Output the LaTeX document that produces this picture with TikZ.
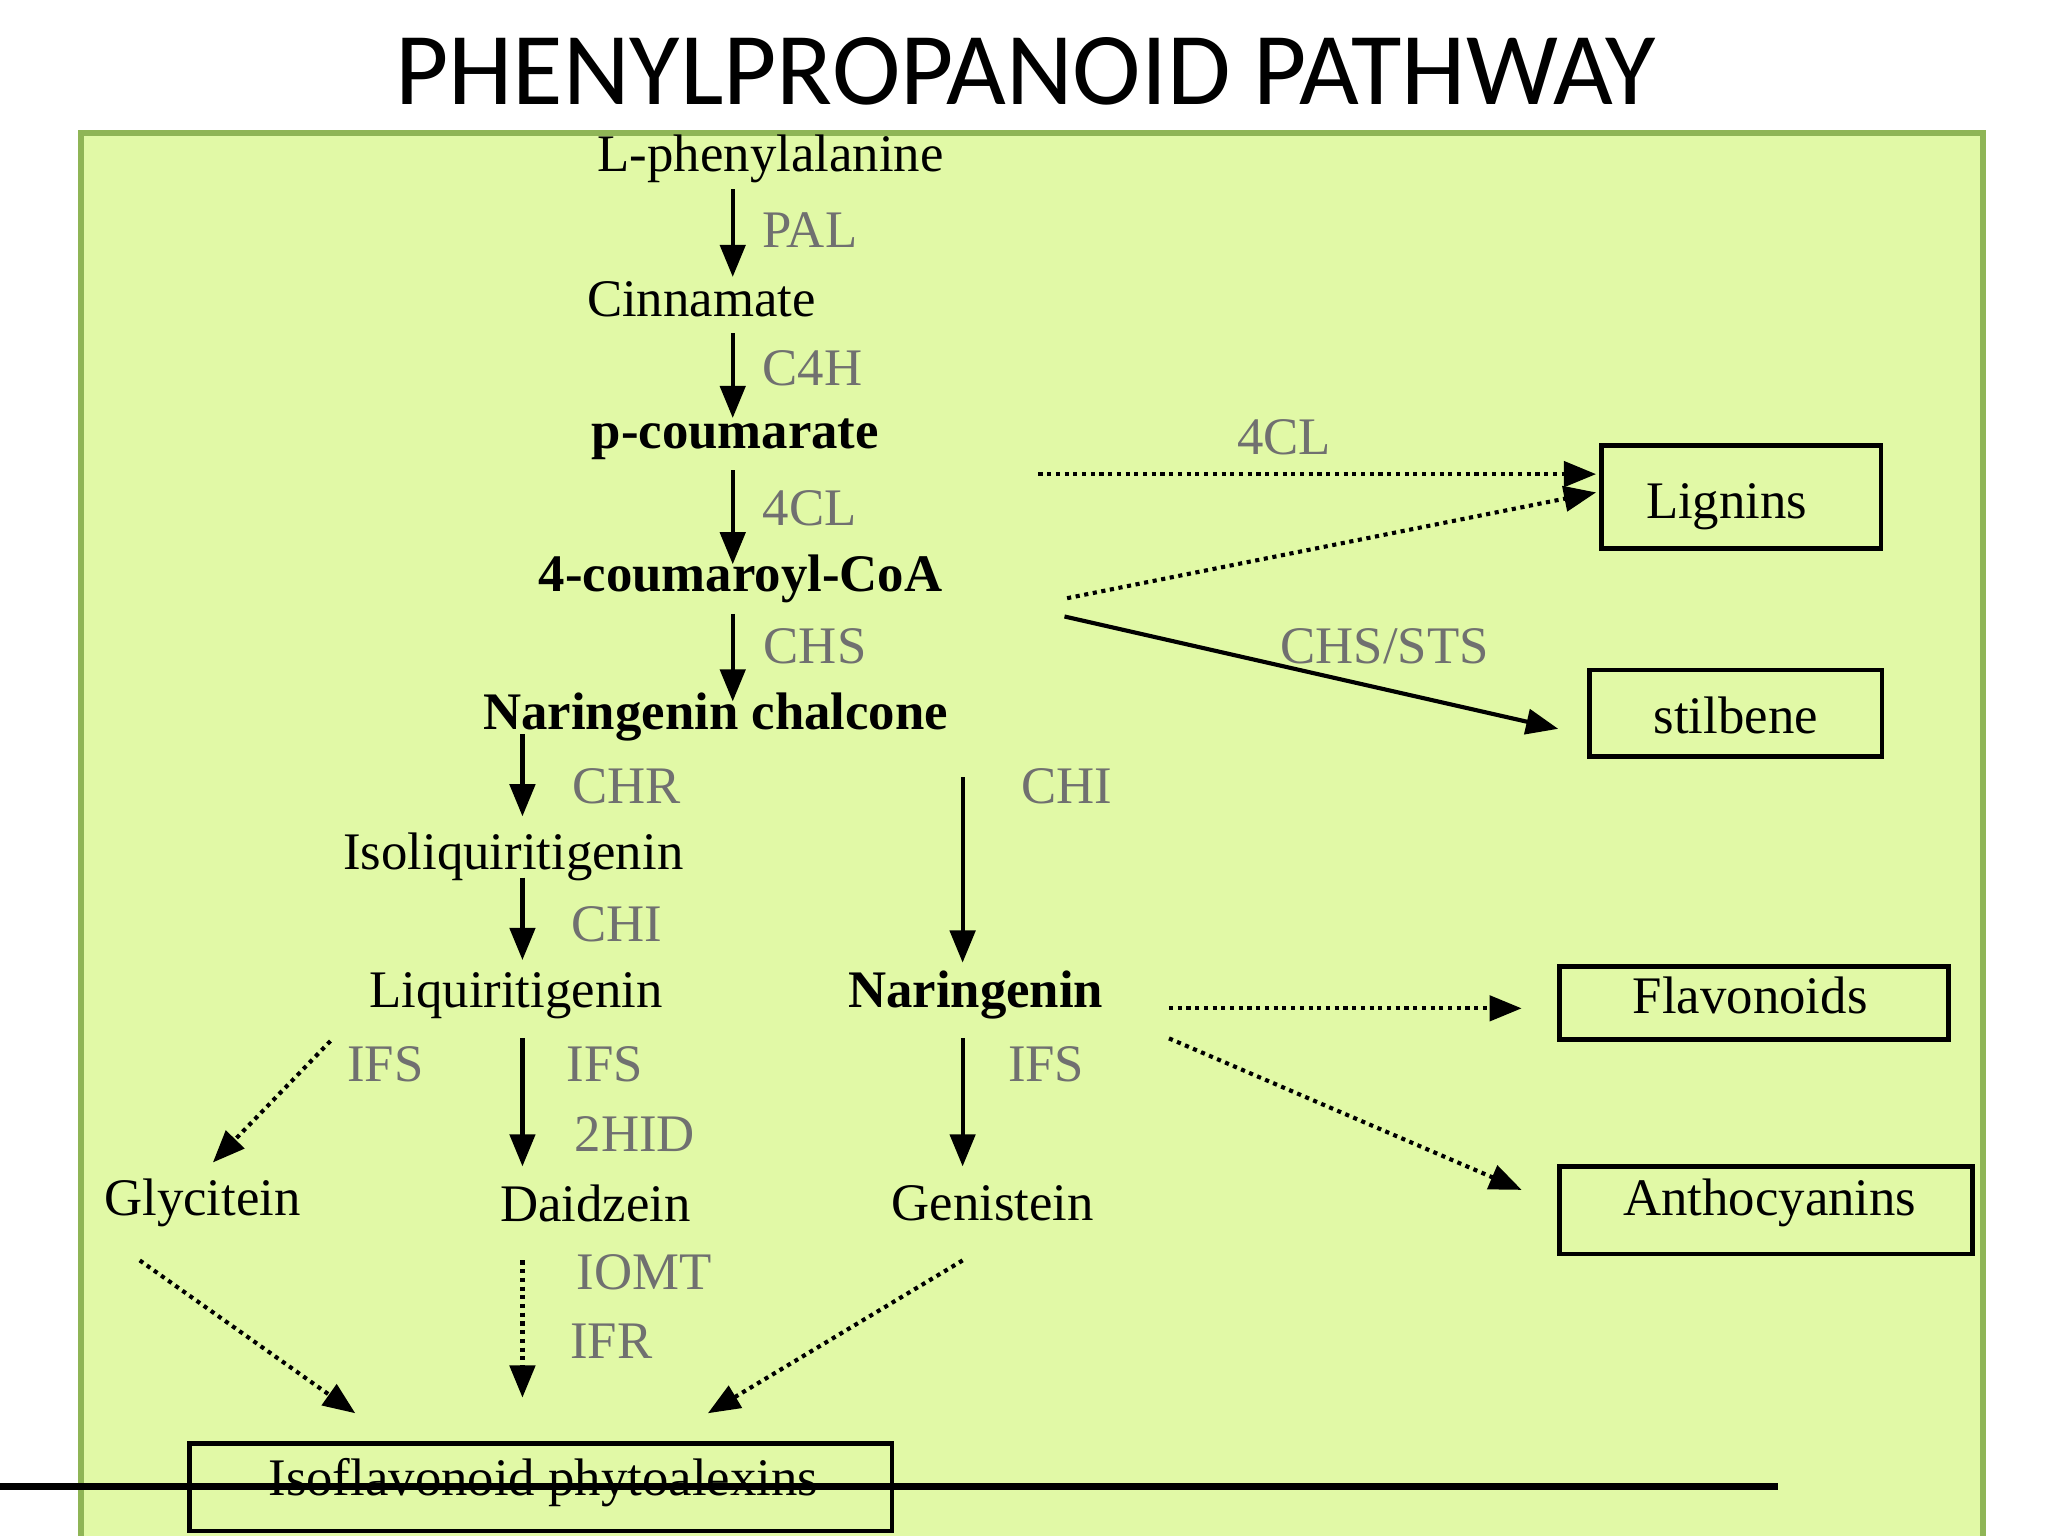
\documentclass[tikz,border=0pt]{standalone}
\usepackage{fontspec}
\setmainfont{Liberation Serif}
\newfontfamily\titlefont{Carlito}
\usetikzlibrary{arrows.meta}
\definecolor{bg}{HTML}{E1F9A6}
\definecolor{bd}{HTML}{8FB556}
\definecolor{enz}{HTML}{707070}
\begin{document}
\begin{tikzpicture}[x=0.02cm,y=-0.02cm,
 t/.style={font=\fontsize{23}{26}\selectfont,inner sep=0},
 b/.style={t,font=\fontsize{23}{26}\selectfont\bfseries},
 e/.style={t,text=enz},
 bx/.style={t,draw,line width=2pt,inner sep=0},
 sol/.style={-{Triangle[length=14pt,width=11pt]},line width=1.8pt},
 dot/.style={-{Triangle[length=14pt,width=11pt]},line width=1.8pt,dotted}]
\useasboundingbox (0,0) rectangle (1568,1176);
\fill[white] (0,0) rectangle (1568,1176);
\draw[fill=bg,draw=bd,line width=2.5pt] (62,102) rectangle (1518,1190);
\node[font=\titlefont\fontsize{45}{50}\selectfont] (title) at (785,55) {PHENYLPROPANOID PATHWAY};
\node[t] (lp) at (590,122) {L-phenylalanine};
\node[t] (cin) at (537,229) {Cinnamate};
\node[b] (pc) at (563,336) {p-coumarate};
\node[b] (coa) at (567,443) {4-coumaroyl-CoA};
\node[b] (nc) at (548,549) {Naringenin chalcone};
\node[t] (iso) at (393,656) {Isoliquiritigenin};
\node[t] (liq) at (395,762) {Liquiritigenin};
\node[b] (nar) at (747,762) {Naringenin};
\node[t] (gly) at (155,921) {Glycitein};
\node[t] (dai) at (456,921) {Daidzein};
\node[t] (gen) at (760,921) {Genistein};
\node[e] at (620,176) {PAL};
\node[e] at (622,282) {C4H};
\node[e] at (620,389) {4CL};
\node[e] at (624,495) {CHS};
\node[e] at (480,602) {CHR};
\node[e] at (472,708) {CHI};
\node[e] at (817,602) {CHI};
\node[e] at (295,815) {IFS};
\node[e] at (463,815) {IFS};
\node[e] at (486,868) {2HID};
\node[e] at (801,815) {IFS};
\node[e] at (493,974) {IOMT};
\node[e] at (468,1027) {IFR};
\node[e] at (983,335) {4CL};
\node[e] at (1060,495) {CHS/STS};
\node[bx,minimum width=538\pgflinewidth] (ip) at (414,1138) {};
\draw[line width=2pt] (145,1105) rectangle (683,1172);
\node[t] at (416,1135) {Isoflavonoid phytoalexins};
\draw[line width=2pt] (1226,341) rectangle (1440,420);
\node[t] (lig) at (1322,388) {Lignins};
\draw[line width=2pt] (1217,513) rectangle (1441,579);
\node[t] (sti) at (1329,548) {stilbene};
\draw[line width=2pt] (1194,740) rectangle (1492,796);
\node[t] (fla) at (1340,762) {Flavonoids};
\draw[line width=2pt] (1194,893) rectangle (1510,960);
\node[t] (ant) at (1355,921) {Anthocyanins};
\coordinate (a1) at (561,145); \coordinate (a2) at (561,212);
\coordinate (b1) at (561,255); \coordinate (b2) at (561,320);
\coordinate (c1) at (561,360); \coordinate (c2) at (561,432);
\coordinate (d1) at (561,470); \coordinate (d2) at (561,537);
\coordinate (e1) at (400,562); \coordinate (e2) at (400,625);
\coordinate (f1) at (400,672); \coordinate (f2) at (400,735);
\coordinate (g1) at (737,595); \coordinate (g2) at (737,737);
\coordinate (h1) at (253,797); \coordinate (h2) at (163,890);
\coordinate (i1) at (400,795); \coordinate (i2) at (400,893);
\coordinate (j1) at (737,795); \coordinate (j2) at (737,893);
\coordinate (k1) at (400,965); \coordinate (k2) at (400,1070);
\coordinate (l1) at (107,965); \coordinate (l2) at (272,1082);
\coordinate (m1) at (737,965); \coordinate (m2) at (542,1082);
\coordinate (n1) at (795,363); \coordinate (n2) at (1222,363);
\coordinate (o1) at (817,458); \coordinate (o2) at (1222,377);
\coordinate (p1) at (815,472); \coordinate (p2) at (1193,558);
\coordinate (q1) at (895,772); \coordinate (q2) at (1165,772);
\coordinate (r1) at (895,795); \coordinate (r2) at (1165,911);
\foreach \s/\t in {a1/a2,b1/b2,c1/c2,d1/d2,e1/e2,f1/f2,g1/g2,i1/i2,j1/j2,p1/p2}
  \draw[sol] (\s) -- (\t);
\foreach \s/\t in {h1/h2,k1/k2,l1/l2,m1/m2,n1/n2,o1/o2,q1/q2,r1/r2}
  \draw[dot] (\s) -- (\t);
\end{tikzpicture}
\end{document}
